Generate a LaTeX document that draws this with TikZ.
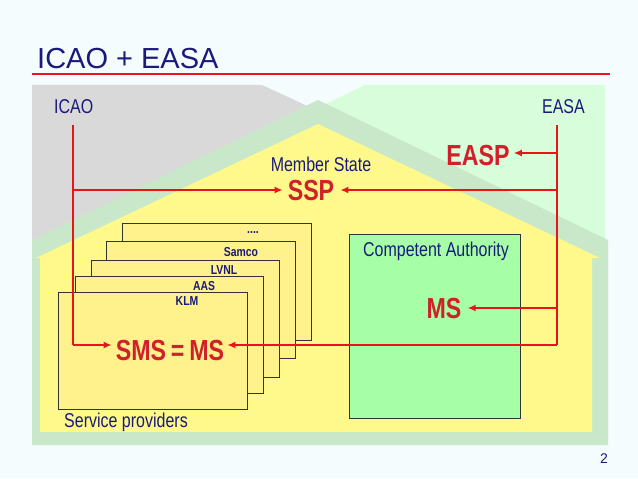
\documentclass[tikz,border=0pt]{standalone}
\usepackage{fontspec}
\setmainfont{Liberation Sans}
\newfontfamily\narrow{Liberation Sans}[FakeStretch=0.8]
\usetikzlibrary{arrows.meta}
\definecolor{navy}{HTML}{1A1A7A}
\definecolor{rd}{HTML}{E8141A}
\definecolor{rdt}{HTML}{D0202A}
\begin{document}
\begin{tikzpicture}[x=1pt,y=-1pt,
  conn/.style={draw=rd,line width=2.6pt,-{Latex[length=8pt,width=7pt]}},
  bar/.style={draw=rd,line width=2.6pt},
  lab/.style={font=\narrow\fontsize{20}{22}\selectfont,text=navy,inner sep=0pt},
  big/.style={font=\narrow\bfseries\fontsize{29}{31}\selectfont,text=rdt,inner sep=0pt},
  sp/.style={draw=black!80,fill=orange!25!yellow!45,line width=0.7pt},
  spl/.style={font=\narrow\bfseries\fontsize{13}{14}\selectfont,text=navy,inner sep=0pt}]
\useasboundingbox (0,0) rectangle (478*1.3347,478);
\fill[cyan!4] (0,0) rectangle (638,478);
\fill[gray!30] (32,85)--(262,85)--(608,245)--(608,440)--(32,440)--cycle;
\fill[green!25,opacity=0.55] (365,85)--(605,85)--(605,440)--(32,440)--(32,245)--cycle;
\fill[green!40!gray!30] (318,100)--(608,240)--(608,445)--(32,445)--(32,240)--cycle;
\fill[yellow!45] (318,124)--(600,258)--(592,258)--(592,432)--(40,432)--(40,258)--(36,258)--cycle;
\node[font=\fontsize{29}{32}\selectfont,text=navy,anchor=west,inner sep=0pt] (title) at (37,59) {ICAO + EASA};
\draw[rd,line width=2.8pt] (32,74)--(610,74);
\node[lab,anchor=west] (icao) at (54,107) {ICAO};
\node[lab,anchor=east] (easa) at (585,107) {EASA};
\node[big] (easp) at (478,156) {EASP};
\node[lab] (ms0) at (321,164) {Member State};
\node[big] (ssp) at (311,191) {SSP};
\draw[sp] (122,223) rectangle (311,340);
\draw[sp] (106,241) rectangle (295,358);
\draw[sp] (91,260) rectangle (279,377);
\draw[sp] (75,276) rectangle (263,393);
\draw[sp] (58,292) rectangle (247,409);
\node[spl] (dots) at (253,233) {....};
\node[spl] (samco) at (241,252) {Samco};
\node[spl] (lvnl) at (224,270) {LVNL};
\node[spl] (aas) at (204,286) {AAS};
\node[spl] (klm) at (187,301) {KLM};
\node[draw=black!80,fill=green!35,line width=0.7pt,minimum width=171pt,minimum height=184pt,inner sep=0pt] (ca) at (434.5,326) {};
\node[lab] (catext) at (436,251) {Competent Authority};
\node[big] (ms) at (444,309) {MS};
\node[big] (sms) at (170,351) {SMS\,=\,MS};
\node[lab,anchor=west] (spv) at (64,422) {Service providers};
\node[font=\fontsize{14}{15}\selectfont,text=navy] (pg) at (604,459) {2};
\coordinate (it) at (73,125); \coordinate (ib) at (73,345); \coordinate (im) at (73,190);
\coordinate (et) at (557,125); \coordinate (eb) at (557,345);
\coordinate (e1) at (557,153); \coordinate (e2) at (557,190); \coordinate (e3) at (557,308);
\draw[bar] (it)--(ib);
\draw[bar] (et)--(eb);
\draw[conn] (ib) -- ([xshift=-4pt]sms.west|-ib);
\draw[conn] (im) -- ([xshift=-5pt]ssp.west|-im);
\draw[conn] (e1) -- ([xshift=4pt]easp.east|-e1);
\draw[conn] (e2) -- ([xshift=6pt]ssp.east|-e2);
\draw[conn] (e3) -- ([xshift=6pt]ms.east|-e3);
\draw[conn] (eb) -- ([xshift=3pt]sms.east|-eb);
\end{tikzpicture}
\end{document}
